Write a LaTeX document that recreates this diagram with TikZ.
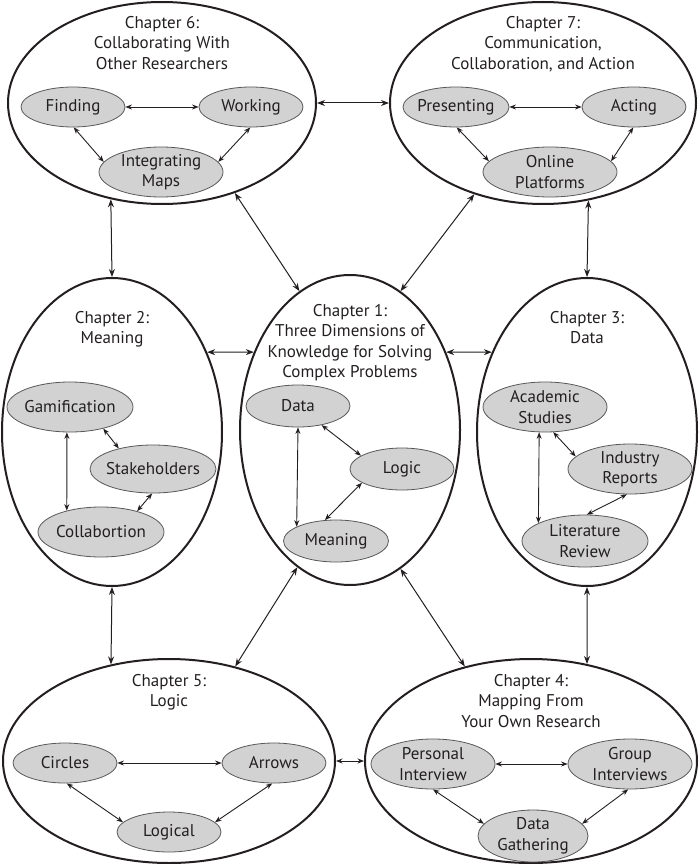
\documentclass[tikz,border=0pt]{standalone}
\usepackage{fontspec}
\setmainfont{PT Sans}
\usetikzlibrary{shapes.geometric,arrows.meta}
\definecolor{ink}{HTML}{231F20}
\definecolor{fillg}{HTML}{D2D2D2}
\begin{document}
\begin{tikzpicture}[x=1pt,y=-1pt,
  every node/.style={font=\fontsize{17}{20.5}\selectfont, text=ink},
  chap/.style 2 args={draw=ink, line width=2pt, ellipse, inner sep=0pt, minimum width=#1pt, minimum height=#2pt},
  ttl/.style={align=center, inner sep=0pt, anchor=north},
  sub/.style 2 args={draw=ink!75, line width=0.8pt, fill=fillg, ellipse, inner sep=-14pt, align=center, minimum width=#1pt, minimum height=#2pt},
  big/.style={draw=ink, line width=1pt, {Stealth[length=8pt,width=6pt]}-{Stealth[length=8pt,width=6pt]}},
  sml/.style={draw=ink, line width=0.9pt, {Stealth[length=6.5pt,width=5pt]}-{Stealth[length=6.5pt,width=5pt]}}
]
\useasboundingbox (0,0) rectangle (700,864);

% chapter ellipses
\node[chap={308}{202}] (c6) at (162,103) {};
\node[chap={306}{202}] (c7) at (543,103) {};
\node[chap={220}{308}] (c2) at (112,432) {};
\node[chap={220}{310}] (c1) at (350,430) {};
\node[chap={220}{308}] (c3) at (587,432) {};
\node[chap={332}{204}] (c5) at (169,761) {};
\node[chap={332}{204}] (c4) at (531,761) {};

% titles
\node[ttl] (t6) at (162,15.7) {Chapter 6:\\Collaborating With\\Other Researchers};
\node[ttl] (t7) at (543,15.7) {Chapter 7:\\Communication,\\Collaboration, and Action};
\node[ttl] (t2) at (112,310.7) {Chapter 2:\\Meaning};
\node[ttl] (t1) at (350,303.7) {Chapter 1:\\Three Dimensions of\\Knowledge for Solving\\Complex Problems};
\node[ttl] (t3) at (587,310.7) {Chapter 3:\\Data};
\node[ttl] (t5) at (169,673.7) {Chapter 5:\\Logic};
\node[ttl] (t4) at (531,673.7) {Chapter 4:\\Mapping From\\Your Own Research};

% chapter 6 items
\node[sub={104}{40}] (fi) at (73,107) {Finding};
\node[sub={104}{40}] (wo) at (251,107) {Working};
\node[sub={124}{50}] (im) at (161,172) {Integrating\\Maps};
% chapter 7 items
\node[sub={106}{40}] (pr) at (456,107) {Presenting};
\node[sub={104}{40}] (ac) at (634,107) {Acting};
\node[sub={134}{50}] (op) at (550,172) {Online\\Platforms};
% chapter 2 items
\node[sub={126}{50}] (ga) at (70,407) {Gamification};
\node[sub={126}{48}] (st) at (153,469) {Stakeholders};
\node[sub={126}{50}] (co) at (101,532) {Collabortion};
% chapter 1 items
\node[sub={104}{42}] (da) at (298,406) {Data};
\node[sub={104}{42}] (lo) at (402,469) {Logic};
\node[sub={105}{42}] (me) at (336,541) {Meaning};
% chapter 3 items
\node[sub={124}{50}] (as) at (545,407) {Academic\\Studies};
\node[sub={124}{50}] (ir) at (630,469) {Industry\\Reports};
\node[sub={126}{52}] (lr) at (585,541) {Literature\\Review};
% chapter 5 items
\node[sub={104}{40}] (ci) at (65,763) {Circles};
\node[sub={104}{40}] (ar) at (274,763) {Arrows};
\node[sub={104}{40}] (lg) at (169,832) {Logical};
% chapter 4 items
\node[sub={124}{50}] (pi) at (433,764) {Personal\\Interview};
\node[sub={124}{50}] (gi) at (630,764) {Group\\Interviews};
\node[sub={110}{52}] (dg) at (533,836) {Data\\Gathering};

% connectors between chapters
\draw[big] (c6.east) -- (c7.west);
\draw[big] (c6.242) -- (c2.north);
\draw[big] (c6.309) -- (c1.110);
\draw[big] (c7.233) -- (c1.70);
\draw[big] (c7.295) -- (c3.north);
\draw[big] (c2.40) -- (c1.141);
\draw[big] (c1.39) -- (c3.140);
\draw[big] (c2.south) -- (c5.121);
\draw[big] (c1.249) -- (c5.55);
\draw[big] (c1.290) -- (c4.125);
\draw[big] (c3.south) -- (c4.60);
\draw[sml] (c5.east) -- (c4.west);

% inner connectors
\draw[sml] (fi.east) -- (wo.west);
\draw[sml] (fi.272) -- (im.170);
\draw[sml] (wo.268) -- (im.10);
\draw[sml] (pr.east) -- (ac.west);
\draw[sml] (pr.272) -- (op.170);
\draw[sml] (ac.268) -- (op.10);
\draw[sml] (ga.263) -- (co.148);
\draw[sml] (ga.327) -- (st.149);
\draw[sml] (st.268) -- (co.30);
\draw[sml] (da.270) -- (me.160);
\draw[sml] (da.321) -- (lo.162);
\draw[sml] (me.118) -- (lo.199);
\draw[sml] (as.257) -- (lr.159);
\draw[sml] (as.288) -- (ir.167);
\draw[sml] (ir.263) -- (lr.86);
\draw[sml] (ci.east) -- (ar.west);
\draw[sml] (ci.275) -- (lg.168);
\draw[sml] (ar.265) -- (lg.12);
\draw[sml] (pi.east) -- (gi.west);
\draw[sml] (pi.270) -- (dg.166);
\draw[sml] (gi.266) -- (dg.14);
\end{tikzpicture}
\end{document}
